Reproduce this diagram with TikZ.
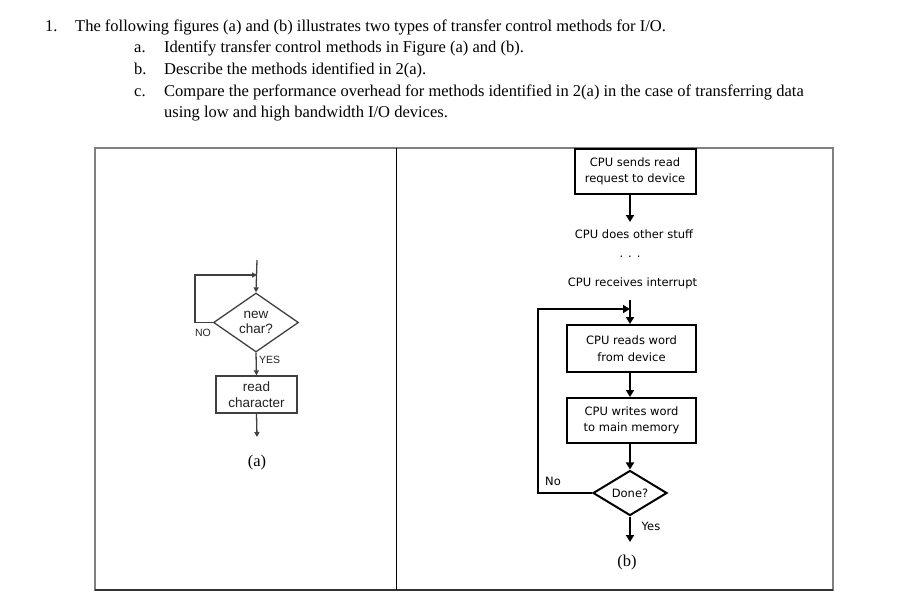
\documentclass[tikz,border=0pt]{standalone}
\usepackage{fontspec}
\setmainfont{Liberation Serif}
\newfontfamily\arialf{Liberation Sans}
\newfontfamily\tahf{DejaVu Sans}
\usetikzlibrary{shapes.geometric,arrows.meta}
\definecolor{framegray}{HTML}{808080}
\definecolor{linea}{HTML}{404040}
\definecolor{texta}{HTML}{222222}
\begin{document}
\begin{tikzpicture}[x=1pt,y=-1pt,
  hdr/.style={anchor=base west,inner sep=0,font=\fontsize{16.5}{20}\selectfont},
  figcap/.style={inner sep=0,font=\fontsize{16.5}{20}\selectfont},
  boxa/.style={draw=linea,line width=1.3,inner sep=0,align=center,text=texta,font=\arialf\fontsize{13.5}{16}\selectfont},
  diaa/.style={diamond,draw=linea,line width=1.3,inner sep=0,align=center,text=texta,font=\arialf\fontsize{13.5}{15}\selectfont},
  lbla/.style={inner sep=0,text=texta,font=\arialf\fontsize{10.5}{12}\selectfont},
  arra/.style={draw=linea,line width=1.3,-{Triangle[width=5pt,length=5pt]}},
  boxb/.style={draw=black,line width=2,inner sep=0,align=center,font=\tahf\fontsize{11.5}{16.5}\selectfont},
  diab/.style={diamond,draw=black,line width=2,inner sep=0,align=center,font=\tahf\fontsize{11.5}{14}\selectfont},
  txtb/.style={inner sep=0,font=\tahf\fontsize{11.5}{14}\selectfont},
  arrb/.style={draw=black,line width=2,-{Triangle[width=8pt,length=7pt]}}]
\useasboundingbox (0,0) rectangle (900,608);
% header
\node[hdr] (h1n) at (45,31) {1.};
\node[hdr] (h1) at (75,31) {The following figures (a) and (b) illustrates two types of transfer control methods for I/O.};
\node[hdr] (hana) at (134,52.7) {a.};
\node[hdr] (ha) at (164,52.7) {Identify transfer control methods in Figure (a) and (b).};
\node[hdr] (hbn) at (134,74.5) {b.};
\node[hdr] (hb) at (164,74.5) {Describe the methods identified in 2(a).};
\node[hdr] (hcn) at (134,96.2) {c.};
\node[hdr] (hc) at (164,96.2) {Compare the performance overhead for methods identified in 2(a) in the case of transferring data};
\node[hdr] (hc2) at (164,117.9) {using low and high bandwidth I/O devices.};
% frame
\draw[framegray,line width=2] (95,148) rectangle (833,590);
\draw[black!80,line width=1.5] (95,590) -- (833,590);
\draw[black,line width=1] (396,148) -- (396,590);
% ---- figure (a)
\coordinate (atop) at (257,260);
\coordinate (ja) at (257,275);
\coordinate (loopa) at (195,275);
\coordinate (abot) at (257,437);
\node[diaa,minimum width=85,minimum height=59] (dia) at (256,322.5) {new\\char?};
\node[boxa,minimum width=81,minimum height=37] (rc) at (256.5,394.5) {read\\character};
\draw[arra] (atop) -- (dia.north);
\draw[arra] (dia.west) -| (loopa) -- (ja);
\draw[arra] (dia.south) -- (rc.north);
\draw[arra] (rc.south) -- (abot);
\node[lbla] (no) at (203,333) {NO};
\node[lbla,anchor=west] (yes) at (259,360) {YES};
\node[figcap] (capa) at (257,463) {(a)};
% ---- figure (b)
\coordinate (spine) at (630,0);
\node[boxb,minimum width=121,minimum height=45] (b1) at (635,171.5) {CPU sends read\\request to device};
\node[txtb] (t1) at (634,234) {CPU does other stuff};
\node[txtb] (dots) at (630,257) {.\hspace{5pt}.\hspace{5pt}.};
\node[txtb] (t2) at (632.5,283) {CPU receives interrupt};
\coordinate (b1end) at (630,222);
\coordinate (b2top) at (630,300);
\coordinate (jb) at (630,309);
\coordinate (loopb) at (538,309);
\node[boxb,minimum width=129,minimum height=47] (b2) at (631.5,348.5) {CPU reads word\\from device};
\node[boxb,minimum width=129,minimum height=45] (b3) at (631.5,420.5) {CPU writes word\\to main memory};
\node[diab,minimum width=74,minimum height=42] (done) at (630,493) {Done?};
\coordinate (bbot) at (630,542);
\draw[arrb] ([xshift=-5pt]b1.south) -- (b1end);
\draw[arrb] (b2top) -- (b2.north -| spine);
\draw[arrb] (done.west) -| (loopb) -- (jb);
\draw[arrb] (b2.south -| spine) -- (b3.north -| spine);
\draw[arrb] (b3.south -| spine) -- (done.north);
\draw[arrb] (done.south) -- (bbot);
\node[txtb] (nob) at (553,481) {No};
\node[txtb] (yesb) at (651,526) {Yes};
\node[figcap] (capb) at (627,563) {(b)};
\end{tikzpicture}
\end{document}
